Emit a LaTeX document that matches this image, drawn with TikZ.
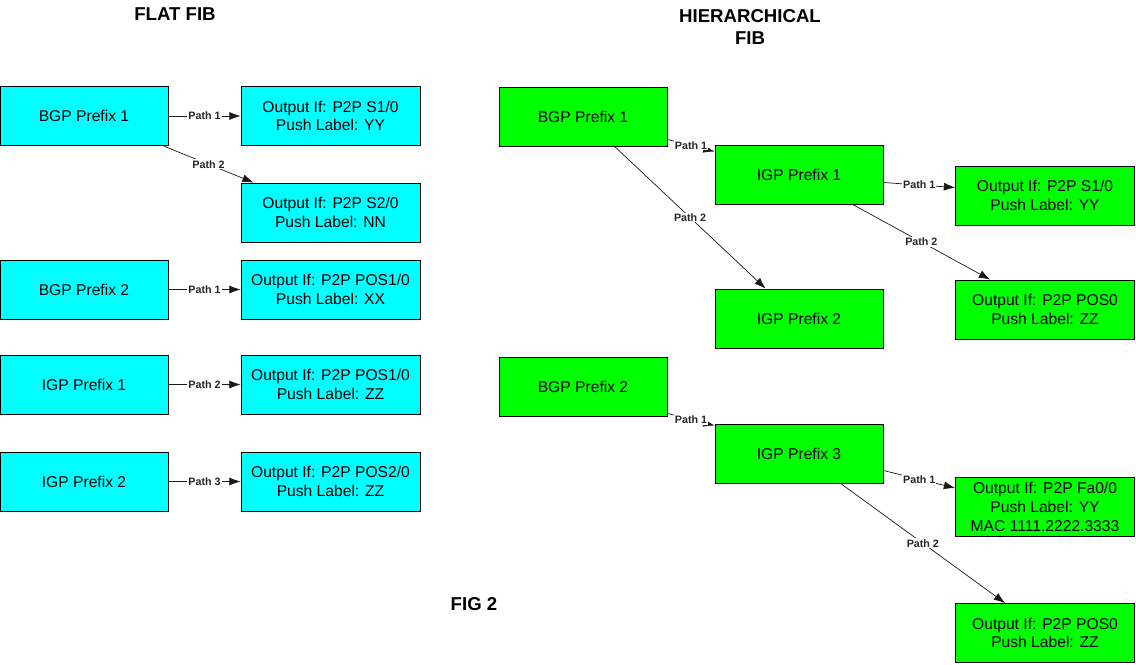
\documentclass[tikz,border=0pt]{standalone}
\usepackage{fontspec}
\setmainfont{Liberation Sans}
\usepackage{tikz}
\usetikzlibrary{arrows.meta, calc}
\definecolor{flatcyan}{RGB}{0,255,255}
\definecolor{hiergreen}{RGB}{0,255,0}
\tikzset{
  fib box/.style={
    draw=black,
    line width=0.5pt,
    minimum height=1.18cm,
    inner sep=0pt,
    align=center,
    font=\fontsize{8.9}{10.6}\selectfont
  },
  prefix box/.style={
    fib box,
    minimum width=3.36cm
  },
  out box/.style={
    fib box,
    minimum width=3.58cm
  },
  flat fill/.style={fill=flatcyan},
  hier fill/.style={fill=hiergreen},
  path arrow/.style={
    -{Latex[length=6.4pt, width=4.6pt]},
    line width=0.4pt,
    color=black!90
  },
  path label/.style={
    fill=white,
    inner sep=0.6pt,
    text=black!85,
    font=\fontsize{6.1}{7}\selectfont\bfseries
  },
  title/.style={
    align=center,
    font=\fontsize{10.6}{13}\selectfont\bfseries
  }
}

\begin{document}
\begin{tikzpicture}[x=0.02cm, y=-0.02cm]
    \useasboundingbox (0, 0) rectangle (1136, 664);

    % 1. titles
    \node[title] (flattitle) at (175, 14) {FLAT FIB};
    \node[title] (hiertitle) at (750, 27) {HIERARCHICAL\\FIB};
    \node[title] (figtitle) at (474, 604) {FIG 2};

    % 2. flat FIB
    \node[prefix box, flat fill] (fbgpa) at (84, 116) {BGP Prefix 1};
    \node[out box, flat fill] (fouta) at (330.5, 116) {Output If: P2P S1/0\\Push Label: YY};
    \node[out box, flat fill] (foutb) at (330.5, 212.5) {Output If: P2P S2/0\\Push Label: NN};
    \node[prefix box, flat fill] (fbgpb) at (84, 289.5) {BGP Prefix 2};
    \node[out box, flat fill] (foutc) at (330.5, 289.5) {Output If: P2P POS1/0\\Push Label: XX};
    \node[prefix box, flat fill] (figpa) at (84, 384.5) {IGP Prefix 1};
    \node[out box, flat fill] (foutd) at (330.5, 384.5) {Output If: P2P POS1/0\\Push Label: ZZ};
    \node[prefix box, flat fill] (figpb) at (84, 481.5) {IGP Prefix 2};
    \node[out box, flat fill] (foute) at (330.5, 481.5) {Output If: P2P POS2/0\\Push Label: ZZ};

    \draw[path arrow] (fbgpa) -- node[path label] {Path 1} (fouta);
    \draw[path arrow] ($(fbgpa.south east)+(-5, 0)$) -- node[path label] {Path 2} ($(foutb.north west)+(13, 0)$);
    \draw[path arrow] (fbgpb) -- node[path label] {Path 1} (foutc);
    \draw[path arrow] (figpa) -- node[path label] {Path 2} (foutd);
    \draw[path arrow] (figpb) -- node[path label] {Path 3} (foute);

    % 3. hierarchical FIB
    \node[prefix box, hier fill] (hbgpa) at (583, 116.5) {BGP Prefix 1};
    \node[prefix box, hier fill] (higpa) at (799, 174.5) {IGP Prefix 1};
    \node[out box, hier fill] (houta) at (1045, 195.5) {Output If: P2P S1/0\\Push Label: YY};
    \node[prefix box, hier fill] (higpb) at (799, 318.5) {IGP Prefix 2};
    \node[out box, hier fill] (houtb) at (1045, 309.5) {Output If: P2P POS0\\Push Label: ZZ};
    \node[prefix box, hier fill] (hbgpb) at (583, 386.5) {BGP Prefix 2};
    \node[prefix box, hier fill] (higpc) at (799, 453.5) {IGP Prefix 3};
    \node[out box, hier fill] (houtc) at (1045, 507) {Output If: P2P Fa0/0\\Push Label: YY\\MAC 1111.2222.3333};
    \node[out box, hier fill] (houtd) at (1045, 633) {Output If: P2P POS0\\Push Label: ZZ};

    \draw[path arrow] ($(hbgpa.south east)+(0, -7)$) -- node[path label] {Path 1} ($(higpa.north west)+(0, 7)$);
    \draw[path arrow] ($(hbgpa.south west)+(116, 0)$) -- node[path label] {Path 2} ($(higpb.north west)+(51, 0)$);
    \draw[path arrow] ($(higpa.east)+(0, 8)$) -- node[path label] {Path 1} ($(houta.west)+(0, -8)$);
    \draw[path arrow] ($(higpa.south west)+(138, 0)$) -- node[path label] {Path 2} ($(houtb.north west)+(35, 0)$);
    \draw[path arrow] ($(hbgpb.south east)+(0, -3)$) -- node[path label] {Path 1} ($(higpc.north west)+(0, 2)$);
    \draw[path arrow] ($(higpc.east)+(0, 17)$) -- node[path label] {Path 1} ($(houtc.west)+(0, -19)$);
    \draw[path arrow] ($(higpc.south west)+(126, 0)$) -- node[path label] {Path 2} ($(houtd.north west)+(50, 0)$);

  \end{tikzpicture}
\end{document}
